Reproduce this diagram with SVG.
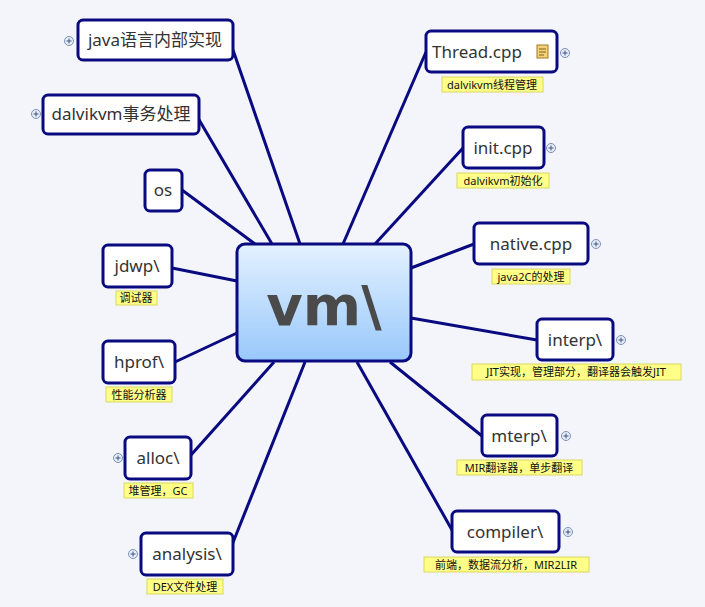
<svg xmlns="http://www.w3.org/2000/svg" width="705" height="607" viewBox="0 0 705 607">
<defs>
<linearGradient id="g" x1="0" y1="0" x2="0" y2="1"><stop offset="0" stop-color="#e4f1ff"/><stop offset="1" stop-color="#98c8fb"/></linearGradient>
<symbol id="plus" overflow="visible"><circle cx="0" cy="0" r="4.5" fill="#e8eef8" stroke="#7890b8" stroke-width="1"/><path d="M-2.5 0h5M0 -2.5v5" stroke="#405080" stroke-width="1"/></symbol>
<style>
.n{fill:#fff;stroke:#0a0a80;stroke-width:3}
.t{font-family:"Noto Sans","Noto Sans CJK SC",sans-serif;font-size:17px;fill:#333;text-anchor:middle}
.l{fill:#ffff88;stroke:#d8d860;stroke-width:1}
.lt{font-family:"Noto Sans","Noto Sans CJK SC",sans-serif;font-size:11px;fill:#111;text-anchor:middle}
.c line{stroke:#0a0a80;stroke-width:3}
</style>
</defs>
<rect width="705" height="607" fill="#f4f5fb"/>
<g class="c">
<line x1="233" y1="50" x2="300" y2="244"/>
<line x1="198" y1="118" x2="272" y2="244"/>
<line x1="182" y1="190" x2="255" y2="244"/>
<line x1="172" y1="268" x2="237" y2="281"/>
<line x1="175" y1="362" x2="237" y2="333"/>
<line x1="191" y1="455" x2="274" y2="362"/>
<line x1="232" y1="545" x2="305" y2="362"/>
<line x1="426" y1="52" x2="343" y2="244"/>
<line x1="463" y1="148" x2="375" y2="244"/>
<line x1="474" y1="244" x2="411" y2="268"/>
<line x1="537" y1="340" x2="411" y2="318"/>
<line x1="482" y1="436" x2="390" y2="362"/>
<line x1="452" y1="530" x2="357" y2="362"/>
</g>
<g id="center"><rect x="237" y="244" width="174" height="117" rx="8" fill="url(#g)" stroke="#0a0a80" stroke-width="3"/><text x="324" y="325" style="font-family:'DejaVu Sans',sans-serif;font-weight:bold;font-size:56px;fill:#4a4a4a;text-anchor:middle">vm\</text></g>
<g id="java"><rect class="n" x="78" y="20" width="155" height="40" rx="5"/><text class="t" x="155" y="46">java语言内部实现</text><use href="#plus" x="69" y="41"/></g>
<g id="dalvik"><rect class="n" x="43" y="95" width="156" height="39" rx="5"/><text class="t" x="121" y="120">dalvikvm事务处理</text><use href="#plus" x="36" y="114"/></g>
<g id="os"><rect class="n" x="145" y="170" width="37" height="41" rx="5"/><text class="t" x="163" y="196">os</text></g>
<g id="jdwp"><rect class="n" x="103" y="245" width="69" height="42" rx="5"/><text class="t" x="137" y="272">jdwp\</text><rect class="l" x="116" y="291" width="41" height="14"/><text class="lt" x="136" y="302">调试器</text></g>
<g id="hprof"><rect class="n" x="103" y="341" width="72" height="42" rx="5"/><text class="t" x="139" y="368">hprof\</text><rect class="l" x="106" y="387" width="66" height="15"/><text class="lt" x="139" y="399">性能分析器</text></g>
<g id="alloc"><rect class="n" x="125" y="437" width="66" height="42" rx="5"/><text class="t" x="158" y="464">alloc\</text><rect class="l" x="124" y="483" width="69" height="15"/><text class="lt" x="158" y="495">堆管理，GC</text><use href="#plus" x="118" y="458"/></g>
<g id="analysis"><rect class="n" x="141" y="533" width="92" height="42" rx="5"/><text class="t" x="187" y="560">analysis\</text><rect class="l" x="147" y="579" width="76" height="15"/><text class="lt" x="185" y="591">DEX文件处理</text><use href="#plus" x="133" y="554"/></g>
<g id="thread"><rect class="n" x="426" y="31" width="131" height="41" rx="5"/><text class="t" x="477" y="58">Thread.cpp</text><rect x="537" y="45" width="11" height="13" fill="#f4d27a" stroke="#a07820"/><path d="M539 49h7M539 52h7M539 55h5" stroke="#806010"/><rect class="l" x="442" y="77" width="101" height="15"/><text class="lt" x="492" y="89">dalvikvm线程管理</text><use href="#plus" x="565" y="53"/></g>
<g id="init"><rect class="n" x="463" y="127" width="81" height="41" rx="5"/><text class="t" x="503" y="154">init.cpp</text><rect class="l" x="457" y="173" width="92" height="15"/><text class="lt" x="503" y="185">dalvikvm初始化</text><use href="#plus" x="551" y="148"/></g>
<g id="native"><rect class="n" x="474" y="223" width="114" height="41" rx="5"/><text class="t" x="531" y="250">native.cpp</text><rect class="l" x="492" y="269" width="78" height="15"/><text class="lt" x="531" y="281">java2C的处理</text><use href="#plus" x="596" y="244"/></g>
<g id="interp"><rect class="n" x="537" y="319" width="76" height="41" rx="5"/><text class="t" x="575" y="346">interp\</text><rect class="l" x="472" y="364" width="209" height="16"/><text class="lt" x="576" y="376">JIT实现，管理部分，翻译器会触发JIT</text><use href="#plus" x="621" y="340"/></g>
<g id="mterp"><rect class="n" x="482" y="415" width="75" height="41" rx="5"/><text class="t" x="519" y="442">mterp\</text><rect class="l" x="457" y="460" width="125" height="15"/><text class="lt" x="519" y="472">MIR翻译器，单步翻译</text><use href="#plus" x="566" y="436"/></g>
<g id="compiler"><rect class="n" x="452" y="511" width="107" height="41" rx="5"/><text class="t" x="505" y="538">compiler\</text><rect class="l" x="424" y="557" width="165" height="15"/><text class="lt" x="506" y="569">前端，数据流分析，MIR2LIR</text><use href="#plus" x="568" y="532"/></g>
</svg>
